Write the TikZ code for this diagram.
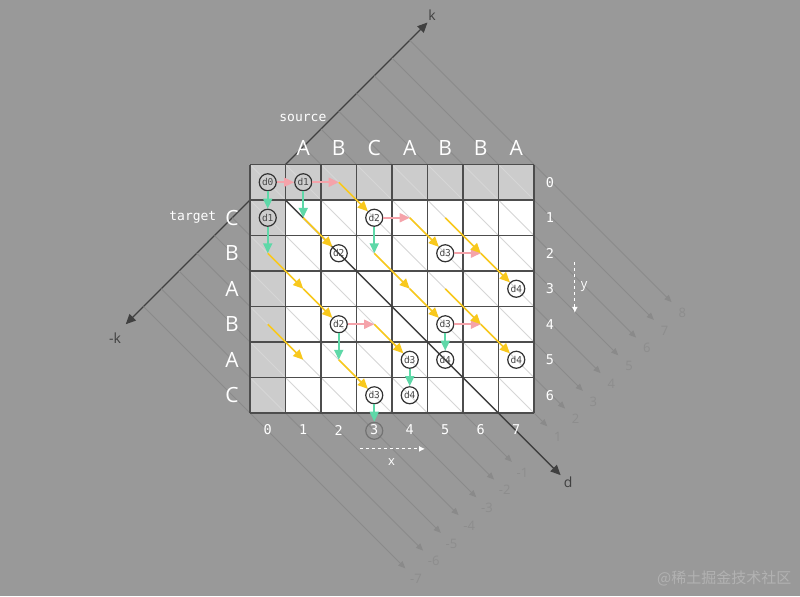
\documentclass[tikz,border=0pt]{standalone}
\usepackage{fontspec}
\setmainfont{Open Sans}
\newfontfamily\codefont{DejaVu Sans Mono}
\newfontfamily\cjkfont{Noto Sans CJK SC}
\usetikzlibrary{arrows.meta}

\definecolor{bggray}{HTML}{999999}
\definecolor{cellgray}{HTML}{CCCCCC}
\definecolor{gridline}{HTML}{4D4D4D}
\definecolor{axisgray}{HTML}{404040}
\definecolor{faintline}{HTML}{8A8A8A}
\definecolor{faintlabel}{HTML}{8D8D8D}
\definecolor{diagline}{HTML}{D6D6D6}
\definecolor{movepink}{HTML}{F5A3AA}
\definecolor{movegreen}{HTML}{5ED8A8}
\definecolor{snakeyellow}{HTML}{F8C81C}

\begin{document}
\begin{tikzpicture}[x=35.5pt, y=-35.5pt]
        \tikzset{
          dstate/.style={circle, draw=black!80, line width=1.2pt, minimum size=17pt, inner sep=0pt,
            text=black!72, font=\codefont\fontsize{9.5}{9.5}\selectfont},
          move tip/.style={-{Triangle[length=10pt,width=9pt]}},
          right move/.style={move tip, draw=movepink, line width=1.6pt},
          down move/.style={move tip, draw=movegreen, line width=1.8pt},
          diag move/.style={move tip, draw=snakeyellow, line width=1.6pt},
          seq letter/.style={text=white, font=\fontsize{21}{21}\selectfont},
          idx label/.style={text=white, font=\codefont\fontsize{13.5}{13.5}\selectfont},
          axis/.style={draw=axisgray, line width=1.4pt},
          kline/.style={draw=faintline, line width=0.9pt, -{Triangle[length=7pt,width=6pt]}},
          klabel/.style={text=faintlabel, font=\fontsize{13}{13}\selectfont}
        }
        % Page and background
        \fill[bggray] (-7.042,-4.634) rectangle (15.493,12.155);
        \useasboundingbox (-7.042,-4.634) rectangle (15.493,12.155);

        % k axis and the diagonals k = x - y
        \coordinate (k_neg) at (-3.5,4.5);
        \coordinate (k_pos) at (5,-4);
        \draw[axis, {Triangle[length=10pt,width=9pt]}-{Triangle[length=10pt,width=9pt]}] (k_neg) -- (k_pos);
        \node[text=axisgray, font=\fontsize{14}{14}\selectfont] (k_pos_lab) at (5.13,-4.21) {k};
        \node[text=axisgray, font=\fontsize{14}{14}\selectfont] (k_neg_lab) at (-3.8,4.89) {-k};
        \foreach \c [count=\n] in {-7,...,8}{
          \ifnum\c=0\relax\else
            \coordinate (kf_\n) at ({(1+\c)/2},{(1-\c)/2});
            \coordinate (kt_\n) at ({(15.75+\c)/2},{(15.75-\c)/2});
            \draw[kline] (kf_\n) -- (kt_\n);
            \node[klabel] (kl_\n) at ({(16.35+\c)/2},{(16.35-\c)/2}) {\c};
          \fi
        }

        % Edit graph cells
        \fill[white] (0,0) rectangle (8,7);
        \fill[cellgray] (0,0) rectangle (8,1);
        \fill[cellgray] (0,0) rectangle (1,7);
        \foreach \i in {0,...,7}
          \foreach \j in {0,...,6}
            \draw[diagline, line width=0.8pt] (\i,\j) -- ++(1,1);
        \foreach \i in {0,...,8}
          \draw[gridline, line width=1.6pt] (\i,0) -- (\i,7);
        \foreach \j in {0,...,7}
          \draw[gridline, line width=1.6pt] (0,\j) -- (8,\j);

        % d axis
        \coordinate (d_from) at (1,1);
        \coordinate (d_to) at (8.75,8.75);
        \draw[axis, -{Triangle[length=10pt,width=9pt]}] (d_from) -- (d_to);
        \node[text=axisgray, font=\fontsize{14}{14}\selectfont] (d_lab) at (8.96,8.94) {d};

        % Strings and indices
        \node[text=white, font=\codefont\fontsize{13}{13}\selectfont] (source) at (1.49,-1.31) {source};
        \node[text=white, font=\codefont\fontsize{13}{13}\selectfont] (target) at (-1.61,1.48) {target};
        \foreach \ch [count=\i] in {A,B,C,A,B,B,A}
          \node[seq letter] (src_\i) at (\i+0.5,-0.465) {\ch};
        \foreach \ch [count=\j] in {C,B,A,B,A,C}
          \node[seq letter] (tgt_\j) at (-0.507,\j+0.5) {\ch};
        \foreach \i in {0,...,7}
          \node[idx label] (col_\i) at (\i+0.5,7.48) {\i};
        \foreach \j in {0,...,6}
          \node[idx label] (row_\j) at (8.45,\j+0.5) {\j};

        % x and y directions
        \coordinate (x_from) at (3.1,8.01);
        \coordinate (x_to) at (4.93,8.01);
        \draw[white, dashed, line width=1.2pt, -{Latex[length=6pt,width=6pt]}] (x_from) -- (x_to);
        \node[text=white, font=\fontsize{13}{13}\selectfont] (x_lab) at (3.99,8.37) {x};
        \coordinate (y_from) at (9.15,2.75);
        \coordinate (y_to) at (9.15,4.18);
        \draw[white, dashed, line width=1.2pt, -{Latex[length=6pt,width=6pt]}] (y_from) -- (y_to);
        \node[text=white, font=\fontsize{13}{13}\selectfont] (y_lab) at (9.41,3.43) {y};

        % Points of the edit graph
        \foreach \i in {0,...,7}
          \foreach \j in {0,...,7}
            \coordinate (p_\i_\j) at (\i+0.5,\j+0.5);

        % Reached points
        \node[dstate] (d_0_0) at (p_0_0) {d0};
        \node[dstate] (d_1_0) at (p_1_0) {d1};
        \node[dstate] (d_0_1) at (p_0_1) {d1};
        \node[dstate] (d_3_1) at (p_3_1) {d2};
        \node[dstate] (d_2_2) at (p_2_2) {d2};
        \node[dstate] (d_2_4) at (p_2_4) {d2};
        \node[dstate] (d_5_2) at (p_5_2) {d3};
        \node[dstate] (d_5_4) at (p_5_4) {d3};
        \node[dstate] (d_4_5) at (p_4_5) {d3};
        \node[dstate] (d_3_6) at (p_3_6) {d3};
        \node[dstate] (d_7_3) at (p_7_3) {d4};
        \node[dstate] (d_5_5) at (p_5_5) {d4};
        \node[dstate] (d_7_5) at (p_7_5) {d4};
        \node[dstate] (d_4_6) at (p_4_6) {d4};
        \node[dstate, draw=black!55] (d_3_7) at (p_3_7) {};

        \path[every edge/.append style={right move}]
        (d_0_0) edge (d_1_0)
        (d_1_0) edge (p_2_0)
        (d_3_1) edge (p_4_1)
        (d_5_2) edge (p_6_2)
        (d_2_4) edge (p_3_4)
        (d_5_4) edge (p_6_4);

        \path[every edge/.append style={down move}]
        (d_0_0) edge (d_0_1)
        (d_0_1) edge (p_0_2)
        (d_1_0) edge (p_1_1)
        (d_3_1) edge (p_3_2)
        (d_2_4) edge (p_2_5)
        (d_5_4) edge (d_5_5)
        (d_4_5) edge (d_4_6)
        (d_3_6) edge (d_3_7);

        \path[every edge/.append style={diag move}]
        (p_2_0) edge (d_3_1)
        (p_1_1) edge (d_2_2)
        (p_4_1) edge (d_5_2)
        (p_3_2) edge (p_4_3)
        (p_4_3) edge (d_5_4)
        (p_5_1) edge (p_6_2)
        (p_6_2) edge (d_7_3)
        (p_0_2) edge (p_1_3)
        (p_1_3) edge (d_2_4)
        (p_3_4) edge (d_4_5)
        (p_2_5) edge (d_3_6)
        (p_5_3) edge (p_6_4)
        (p_6_4) edge (d_7_5)
        (p_0_4) edge (p_1_5);

        \node[anchor=east, text=black!30, font=\cjkfont\fontsize{15}{15}\selectfont] (mark) at (15.35,11.65) {@稀土掘金技术社区};
    \end{tikzpicture}
\end{document}
